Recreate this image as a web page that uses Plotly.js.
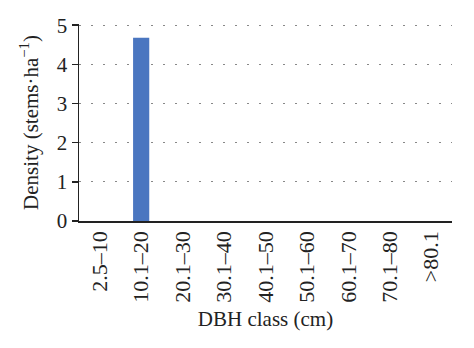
<!DOCTYPE html>
<html>
<head>
<meta charset="utf-8">
<script src="https://cdn.plot.ly/plotly-3.0.1.min.js"></script>
<style>html,body{margin:0;padding:0;background:#fff;}#chart{width:474px;height:348px;}</style>
</head>
<body>
<div id="chart"></div>
<script>
const categories = ["2.5–10", "10.1–20", "20.1–30", "30.1–40", "40.1–50", "50.1–60", "60.1–70", "70.1–80", ">80.1"];
const density = [0, 4.68, 0, 0, 0, 0, 0, 0, 0];
const yTicks = [0, 1, 2, 3, 4, 5];

const font = "Liberation Serif, Times New Roman, serif";

Plotly.newPlot("chart", [{
  type: "bar",
  x: categories,
  y: density,
  marker: {color: "#4a76c0"},
  hoverinfo: "none"
}], {
  width: 474,
  height: 348,
  margin: {l: 79, r: 22, t: 24, b: 127},
  paper_bgcolor: "#fff",
  plot_bgcolor: "#fff",
  bargap: 0.61,
  showlegend: false,
  font: {family: font, color: "#222", size: 20},
  xaxis: {
    type: "category",
    tickangle: -90,
    showline: true,
    linecolor: "#222",
    linewidth: 1.5,
    ticks: "",
    showgrid: false,
    zeroline: false,
    tickfont: {family: font, size: 22, color: "#222"},
    title: {text: "DBH class (cm)", font: {family: font, size: 21, color: "#222"}, standoff: 9}
  },
  yaxis: {
    range: [0, 5.03],
    tickvals: yTicks,
    showline: true,
    linecolor: "#222",
    linewidth: 1.5,
    ticks: "outside",
    ticklen: 6,
    tickcolor: "#222",
    tickwidth: 1.5,
    showgrid: true,
    gridcolor: "#888",
    gridwidth: 1.2,
    griddash: "1.5px,10.5px",
    zeroline: false,
    tickfont: {family: font, size: 21, color: "#222"},
    title: {text: "Density (stems·ha<sup>−1</sup>)", font: {family: font, size: 21, color: "#222"}, standoff: 12}
  }
}, {staticPlot: true});
</script>
</body>
</html>
